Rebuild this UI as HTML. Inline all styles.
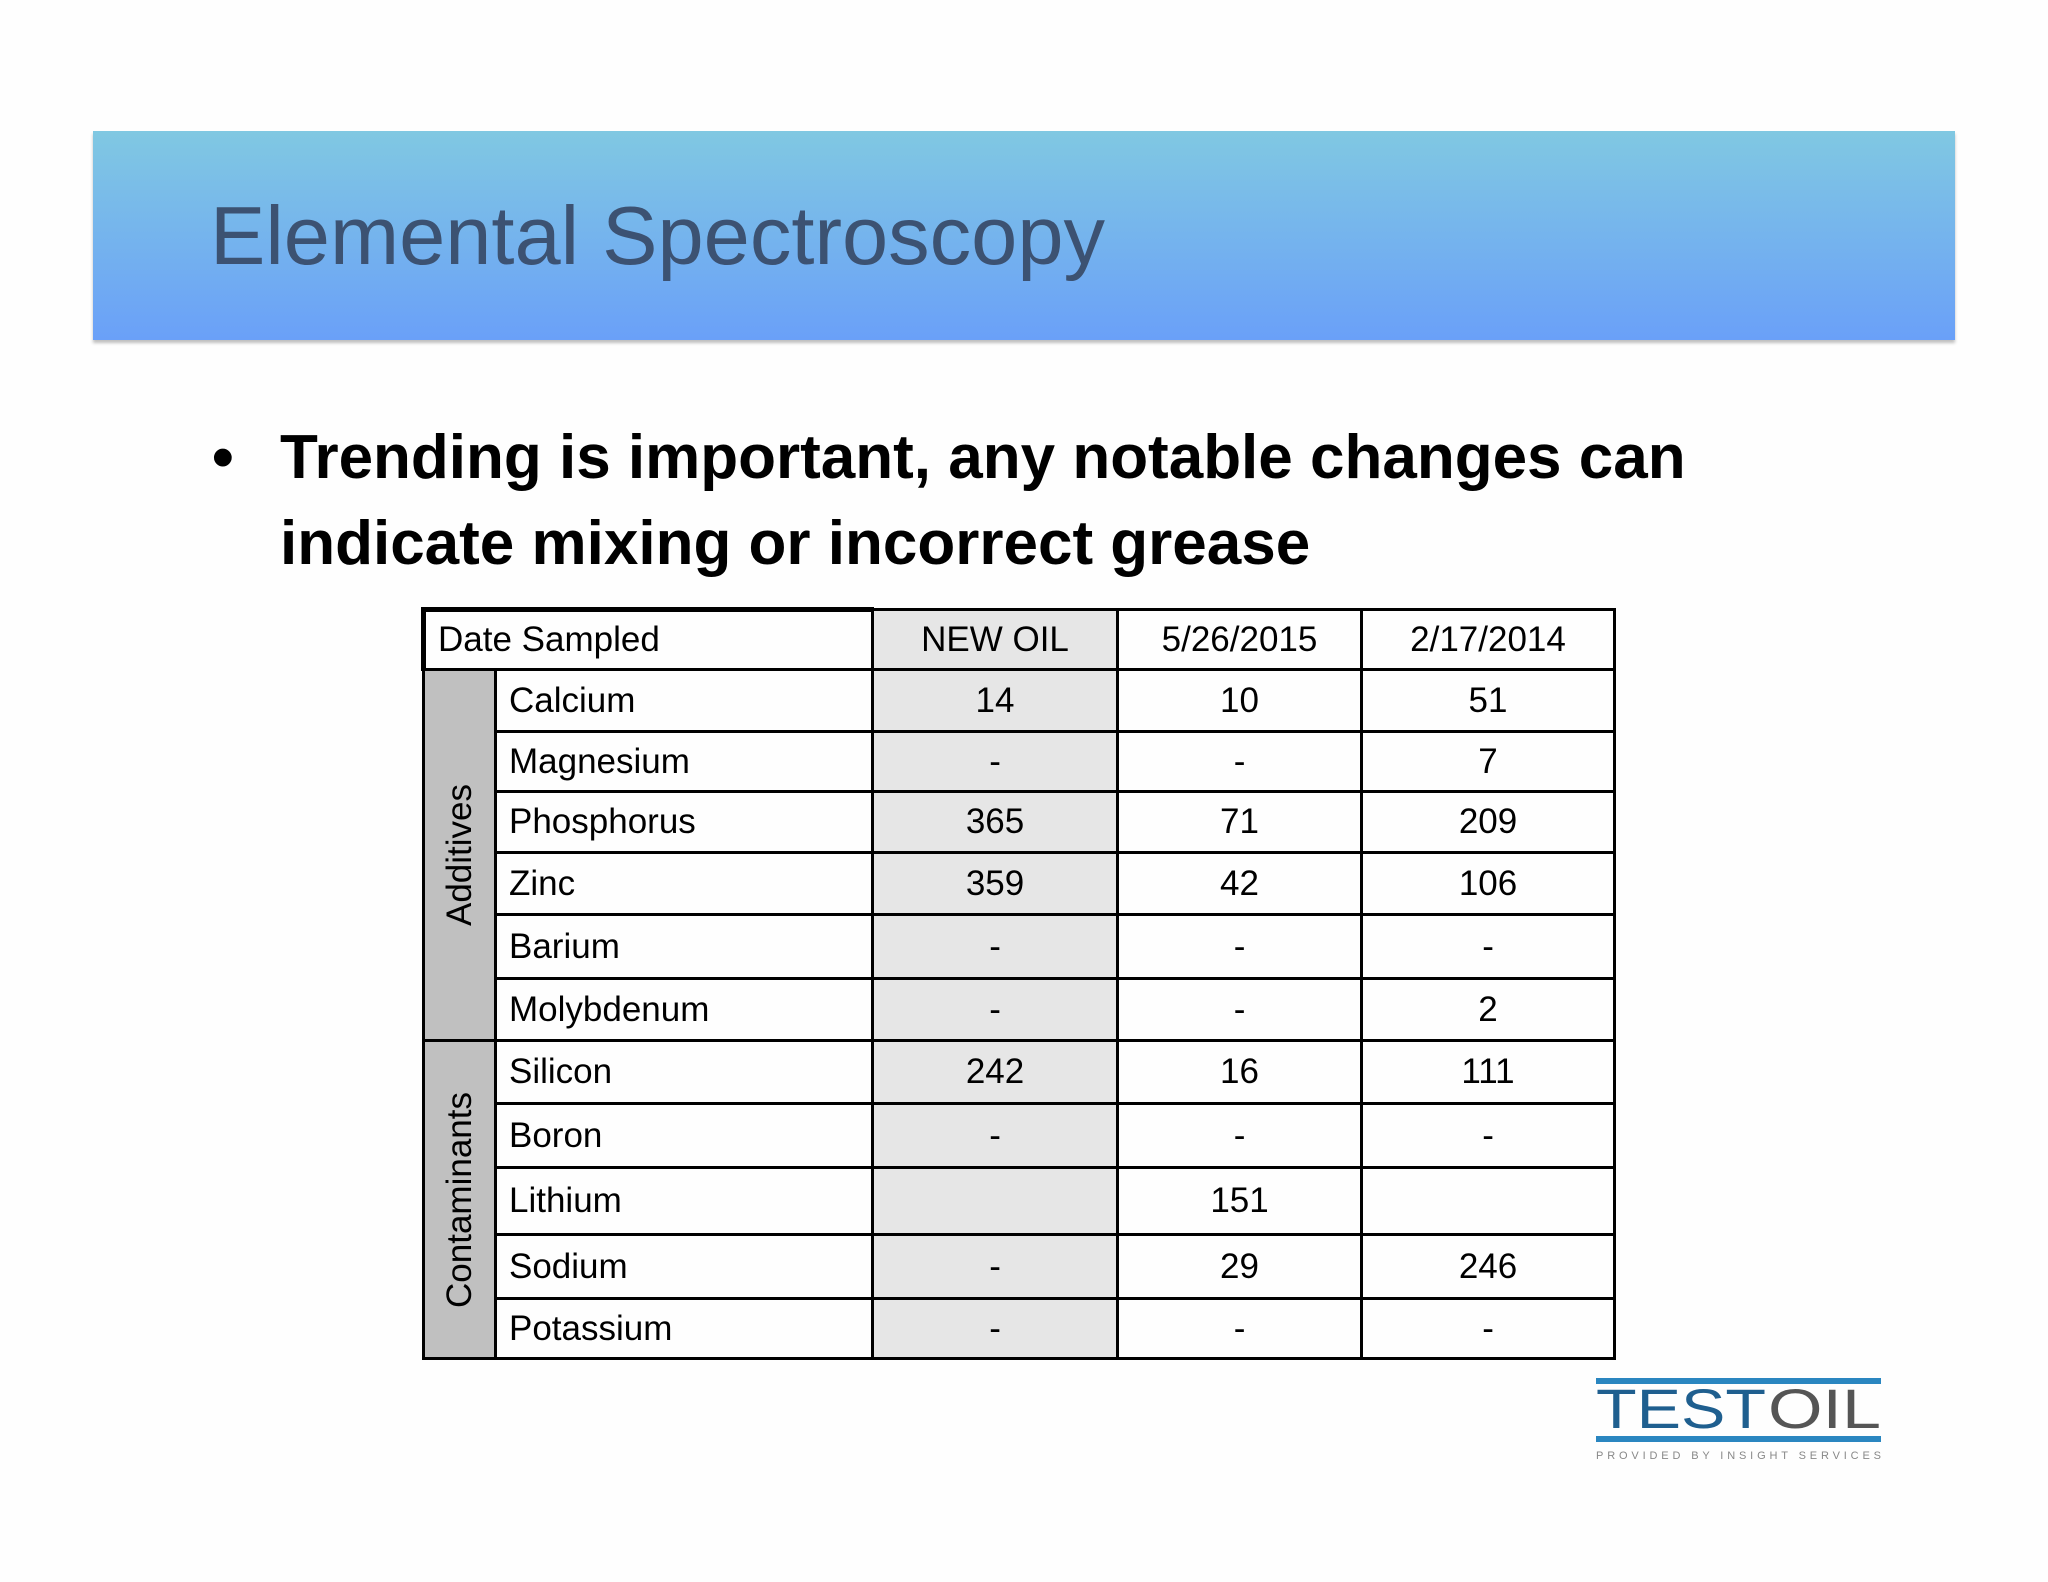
<!DOCTYPE html>
<html><head><meta charset="utf-8"><style>
body{margin:0;width:2048px;height:1582px;background:#fefefe;position:relative;overflow:hidden;font-family:"Liberation Sans",sans-serif}
.band{position:absolute;left:93px;top:131px;width:1862px;height:209px;background:linear-gradient(#80c8e2,#6aa0f8);box-shadow:0 3px 3px rgba(0,0,0,.25)}
.title{position:absolute;left:210px;top:188px;font-size:83px;color:#3c5272}
.bullet{position:absolute;left:212px;top:415px;font-size:62px;font-weight:bold;color:#000;line-height:86px}
.bullet .l{position:absolute;left:68px;white-space:nowrap}
table{position:absolute;left:421px;top:607px;width:1191px;border-collapse:collapse;table-layout:fixed;font-size:35px}
td{border:3px solid #000;padding:0;height:56px}
.g{background:#e6e6e6;text-align:center}
.c{text-align:center}
.n{padding-left:12px}
.grp{background:#c0c0c0;position:relative}
.grp span{position:absolute;left:50%;top:50%;transform:translate(-50%,-50%) rotate(-90deg);white-space:nowrap}
.logo{position:absolute;left:1596px;top:1378px;width:285px}
</style></head><body>
<div class="band"></div>
<div class="title">Elemental Spectroscopy</div>
<div class="bullet"><span style="position:absolute;left:0;top:0">•</span><span class="l" style="top:0">Trending is important, any notable changes can</span><span class="l" style="top:86px">indicate mixing or incorrect grease</span></div>
<table>
<colgroup><col style="width:72px"><col style="width:377px"><col style="width:245px"><col style="width:244px"><col style="width:253px"></colgroup>
<tr style="height:60px"><td colspan="2" class="n" style="border-width:5px 3px 3px 5px">Date Sampled</td><td class="g">NEW OIL</td><td class="c">5/26/2015</td><td class="c">2/17/2014</td></tr>
<tr style="height:62px"><td rowspan="6" class="grp"><span>Additives</span></td><td class="n">Calcium</td><td class="g">14</td><td class="c">10</td><td class="c">51</td></tr>
<tr style="height:60px"><td class="n">Magnesium</td><td class="g">-</td><td class="c">-</td><td class="c">7</td></tr>
<tr style="height:61px"><td class="n">Phosphorus</td><td class="g">365</td><td class="c">71</td><td class="c">209</td></tr>
<tr style="height:62px"><td class="n">Zinc</td><td class="g">359</td><td class="c">42</td><td class="c">106</td></tr>
<tr style="height:64px"><td class="n">Barium</td><td class="g">-</td><td class="c">-</td><td class="c">-</td></tr>
<tr style="height:62px"><td class="n">Molybdenum</td><td class="g">-</td><td class="c">-</td><td class="c">2</td></tr>
<tr style="height:63px"><td rowspan="5" class="grp"><span>Contaminants</span></td><td class="n">Silicon</td><td class="g">242</td><td class="c">16</td><td class="c">111</td></tr>
<tr style="height:64px"><td class="n">Boron</td><td class="g">-</td><td class="c">-</td><td class="c">-</td></tr>
<tr style="height:67px"><td class="n">Lithium</td><td class="g"></td><td class="c">151</td><td class="c"></td></tr>
<tr style="height:64px"><td class="n">Sodium</td><td class="g">-</td><td class="c">29</td><td class="c">246</td></tr>
<tr style="height:60px"><td class="n">Potassium</td><td class="g">-</td><td class="c">-</td><td class="c">-</td></tr>
</table>
<svg class="logo" viewBox="0 0 285 85">
<rect x="0" y="0" width="285" height="6" fill="#2a86c0"/>
<text x="0" y="50" font-family="Liberation Sans" font-size="56" fill="#1f5f8f" textLength="170" lengthAdjust="spacingAndGlyphs">TEST</text>
<text x="172" y="50" font-family="Liberation Sans" font-size="56" fill="#555" textLength="113" lengthAdjust="spacingAndGlyphs">OIL</text>
<rect x="0" y="58" width="285" height="6" fill="#2a86c0"/>
<text x="0" y="81" font-family="Liberation Sans" font-size="11" fill="#888" textLength="285" lengthAdjust="spacing">PROVIDED BY INSIGHT SERVICES</text>
</svg>
</body></html>
